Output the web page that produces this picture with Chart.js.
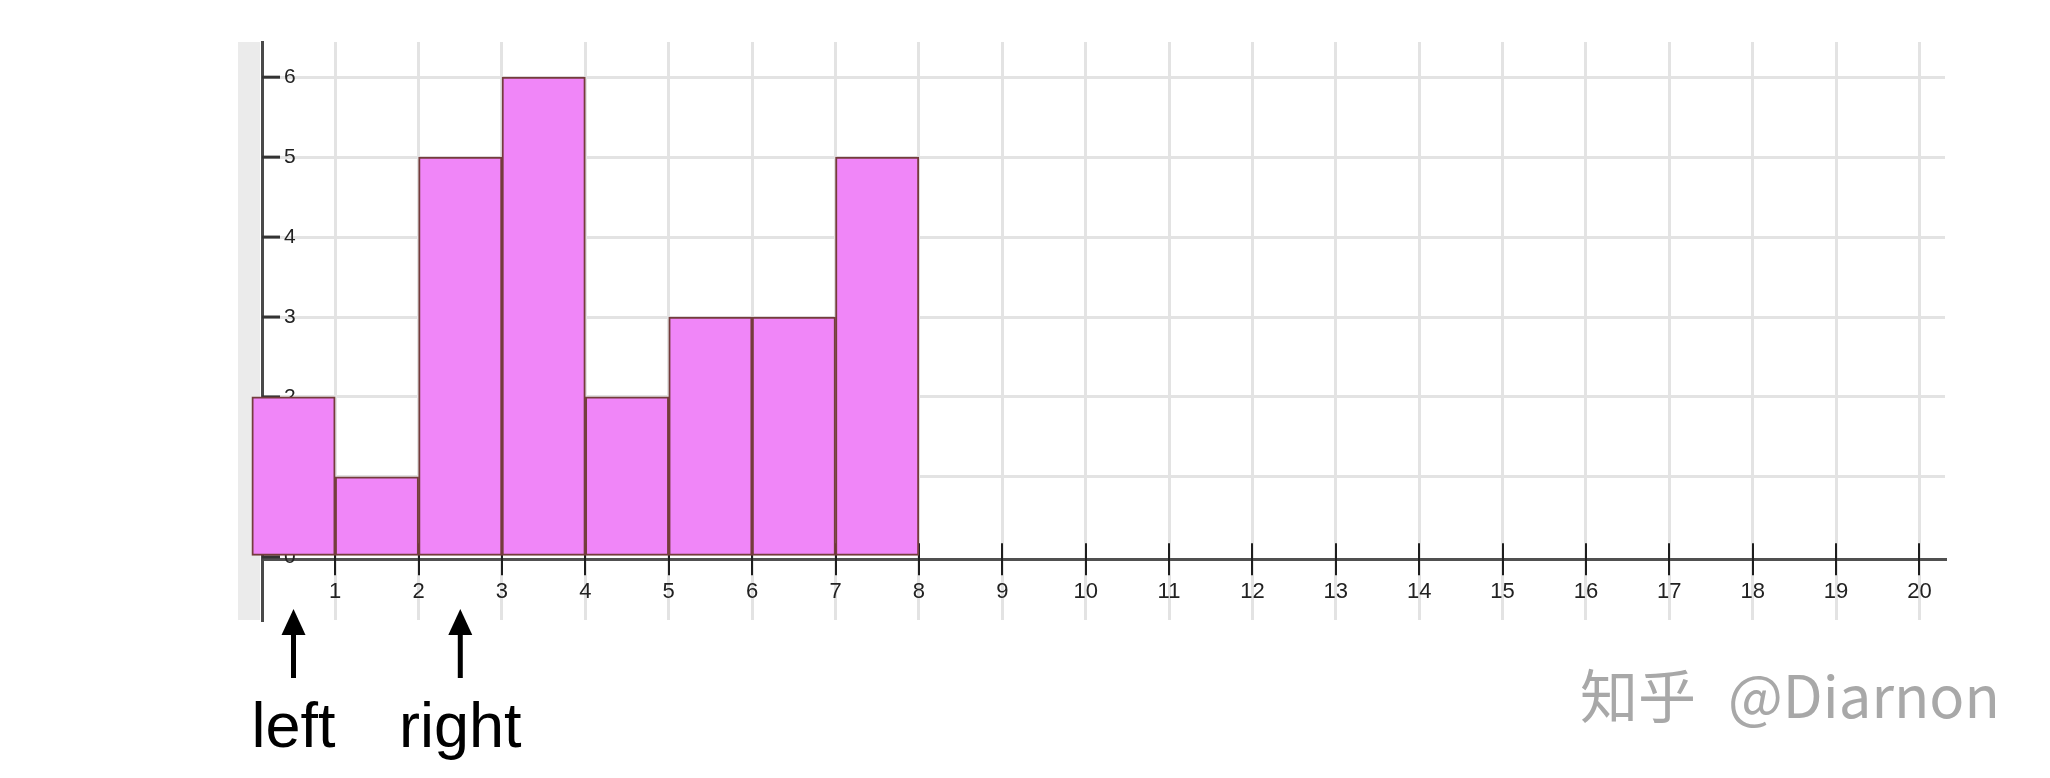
<!DOCTYPE html>
<html>
<head>
<meta charset="utf-8">
<script src="https://cdn.jsdelivr.net/npm/chart.js@4"></script>
<style>
  html, body { margin: 0; padding: 0; background: #fff; }
  canvas { display: block; }
</style>
</head>
<body>
<canvas id="hist" width="2050" height="778"></canvas>
<script>
// histogram bins (left edge of each bin, width 1) and their counts
const binStarts = [0, 1, 2, 3, 4, 5, 6, 7];
const counts = [2, 1, 5, 6, 2, 3, 3, 5];
const xTicks = [1, 2, 3, 4, 5, 6, 7, 8, 9, 10, 11, 12, 13, 14, 15, 16, 17, 18, 19, 20];
const yTicks = [0, 1, 2, 3, 4, 5, 6];
// arrows under the chart
const arrowAt = [0.5, 2.5];
const arrowText = ['left', 'right'];
const markSite = '知乎';
const markUser = '@Diarnon';

const axisY = -0.03;

const histData = binStarts.map((b, i) => ({ x: b + 0.5, y: counts[i] }));

const extras = {
  id: 'extras',
  beforeDraw(chart) {
    const ctx = chart.ctx;
    const a = chart.chartArea;
    ctx.save();
    ctx.fillStyle = '#ebebeb';
    ctx.fillRect(a.left - 24, a.top, 22, a.bottom - a.top);
    ctx.restore();
  },
  beforeDatasetsDraw(chart) {
    const ctx = chart.ctx;
    const xs = chart.scales.x, ys = chart.scales.y;
    const a = chart.chartArea;
    const y0 = ys.getPixelForValue(axisY);
    ctx.save();
    ctx.strokeStyle = '#1e1e1e';
    ctx.lineWidth = 2;
    xTicks.forEach(v => {
      const px = Math.round(xs.getPixelForValue(v));
      ctx.beginPath();
      ctx.moveTo(px, y0 - 16);
      ctx.lineTo(px, y0 + 16);
      ctx.stroke();
    });
    ctx.strokeStyle = '#333';
    ctx.lineWidth = 3;
    yTicks.forEach(v => {
      const py = ys.getPixelForValue(v);
      ctx.beginPath();
      ctx.moveTo(a.left, py);
      ctx.lineTo(a.left + 18, py);
      ctx.stroke();
    });
    ctx.restore();
  },
  afterDraw(chart) {
    const ctx = chart.ctx;
    const xs = chart.scales.x;
    ctx.save();
    ctx.fillStyle = '#000';
    ctx.strokeStyle = '#000';
    arrowAt.forEach((v, i) => {
      const px = xs.getPixelForValue(v);
      ctx.beginPath();
      ctx.moveTo(px, 609);
      ctx.lineTo(px - 12, 635);
      ctx.lineTo(px + 12, 635);
      ctx.closePath();
      ctx.fill();
      ctx.lineWidth = 5;
      ctx.beginPath();
      ctx.moveTo(px, 630);
      ctx.lineTo(px, 678);
      ctx.stroke();
      ctx.font = '63px "Liberation Sans", Arial, sans-serif';
      ctx.textAlign = 'center';
      ctx.textBaseline = 'alphabetic';
      ctx.fillText(arrowText[i], px, 747);
    });
    ctx.font = '58px "Noto Sans CJK SC", "Noto Sans", sans-serif';
    ctx.textAlign = 'left';
    ctx.fillStyle = '#a8a8a8';
    ctx.fillText(markSite, 1580, 718);
    ctx.fillText(markUser, 1728, 718);
    ctx.restore();
  }
};

new Chart(document.getElementById('hist'), {
  type: 'bar',
  data: {
    datasets: [{
      data: histData,
      backgroundColor: '#f086f8',
      borderColor: '#743c3c',
      borderWidth: 2,
      borderSkipped: false,
      barPercentage: 1,
      categoryPercentage: 1,
      clip: false
    }]
  },
  options: {
    responsive: false,
    animation: false,
    layout: { padding: { left: 262, right: 105, top: 42, bottom: 158 } },
    plugins: {
      legend: { display: false },
      tooltip: { enabled: false }
    },
    scales: {
      x: {
        type: 'linear',
        position: { y: axisY },
        min: 0.122,
        max: 20.306,
        offset: false,
        afterBuildTicks: scale => { scale.ticks = xTicks.map(v => ({ value: v })); },
        grid: { offset: false, color: '#e3e3e3', lineWidth: 3, drawTicks: false },
        border: { display: true, color: '#505050', width: 3 },
        ticks: {
          padding: 19,
          color: '#222',
          font: { family: '"Liberation Sans", Arial, sans-serif', size: 22 }
        }
      },
      y: {
        type: 'linear',
        min: -0.79,
        max: 6.44,
        afterBuildTicks: scale => { scale.ticks = yTicks.map(v => ({ value: v })); },
        afterFit: scale => { scale.width = 0; },
        grid: {
          color: c => (c.tick && c.tick.value === 0) ? 'rgba(0,0,0,0)' : '#e3e3e3',
          lineWidth: 3,
          drawTicks: false
        },
        border: { display: true, color: '#4a4a4a', width: 3 },
        ticks: {
          mirror: true,
          padding: 22,
          color: '#222',
          font: { family: '"Liberation Sans", Arial, sans-serif', size: 21 }
        }
      }
    }
  },
  plugins: [extras]
});
</script>
</body>
</html>
